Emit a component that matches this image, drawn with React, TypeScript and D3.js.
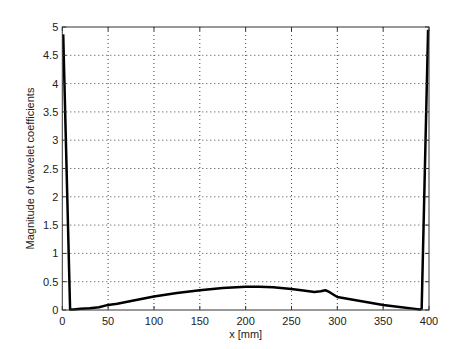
import React from "react";
import * as d3 from "d3";

const xs = [1, 8.5, 12, 20, 30, 40, 50, 60, 75, 100, 125, 150, 175, 200, 215, 230, 250, 265, 275, 282, 287, 292, 300, 325, 350, 370, 385, 390, 392, 399];
const ys = [4.87, 0.01, 0.01, 0.02, 0.03, 0.05, 0.09, 0.11, 0.16, 0.24, 0.3, 0.35, 0.39, 0.41, 0.41, 0.4, 0.37, 0.34, 0.32, 0.33, 0.35, 0.31, 0.23, 0.16, 0.09, 0.05, 0.02, 0.01, 0.02, 4.95];
const xTicks = [0, 50, 100, 150, 200, 250, 300, 350, 400];
const yTicks = [0, 0.5, 1, 1.5, 2, 2.5, 3, 3.5, 4, 4.5, 5];

export default function App() {
  const W = 474, H = 349;
  const L = 62.3, R = 429, T = 27, B = 310;
  const x = d3.scaleLinear().domain([0, 400]).range([L, R]);
  const y = d3.scaleLinear().domain([0, 5]).range([B, T]);
  const pts = xs.map((v, i) => [v, ys[i]] as [number, number]);
  const line = d3.line<[number, number]>().x(d => x(d[0])).y(d => y(d[1]));
  const font = "Arial, 'Liberation Sans', sans-serif";
  return (
    <svg width={W} height={H} style={{ position: "absolute", left: 0, top: 0, background: "#fff" }}>
      <rect x={0} y={0} width={W} height={H} fill="#fff" />
      <rect x={L} y={T} width={R - L} height={B - T} fill="#fff" />
      {xTicks.slice(1, -1).map(t => (
        <line key={"gx" + t} x1={x(t)} x2={x(t)} y1={T} y2={B} stroke="#444" strokeWidth={1} strokeDasharray="1,3" />
      ))}
      {yTicks.slice(1, -1).map(t => (
        <line key={"gy" + t} x1={L} x2={R} y1={y(t)} y2={y(t)} stroke="#444" strokeWidth={1} strokeDasharray="1,3" />
      ))}
      <path d={line(pts) || ""} fill="none" stroke="#000" strokeWidth={2.5} strokeLinejoin="round" />
      <rect x={L} y={T} width={R - L} height={B - T} fill="none" stroke="#333" strokeWidth={1} />
      {xTicks.map(t => (
        <g key={"tx" + t}>
          <line x1={x(t)} x2={x(t)} y1={B} y2={B - 4} stroke="#333" />
          <line x1={x(t)} x2={x(t)} y1={T} y2={T + 4} stroke="#333" />
          <text x={x(t)} y={B + 15} textAnchor="middle" fontSize={11} fontFamily={font} fill="#222">{t}</text>
        </g>
      ))}
      {yTicks.map(t => (
        <g key={"ty" + t}>
          <line x1={L} x2={L + 4} y1={y(t)} y2={y(t)} stroke="#333" />
          <line x1={R} x2={R - 4} y1={y(t)} y2={y(t)} stroke="#333" />
          <text x={L - 4} y={y(t) + 4} textAnchor="end" fontSize={11} fontFamily={font} fill="#222">{t}</text>
        </g>
      ))}
      <text x={(L + R) / 2} y={338} textAnchor="middle" fontSize={11} fontFamily={font} fill="#222">x [mm]</text>
      <text transform={`translate(34,${(T + B) / 2}) rotate(-90)`} textAnchor="middle" fontSize={11} fontFamily={font} fill="#222">Magnitude of wavelet coefficients</text>
    </svg>
  );
}
